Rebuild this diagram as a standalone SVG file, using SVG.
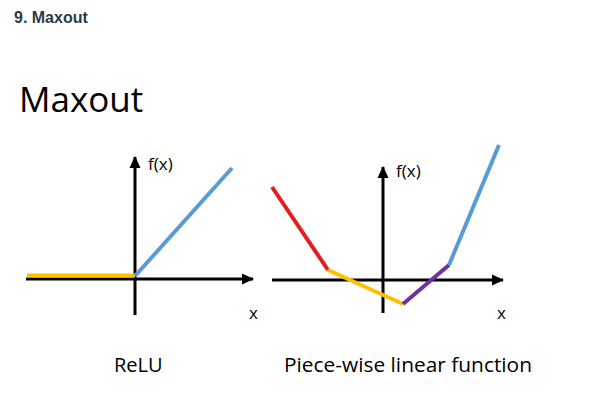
<svg xmlns="http://www.w3.org/2000/svg" width="590" height="418" viewBox="0 0 590 418">
<defs>
<style>
.ax{stroke:#000;stroke-width:3;fill:none}
.seg{stroke-width:4;fill:none;stroke-linecap:butt}
.lbl{font-family:"Open Sans","Liberation Sans",sans-serif;fill:#000}
</style>
<marker id="ah" markerWidth="12" markerHeight="12" refX="11" refY="6" orient="auto" markerUnits="userSpaceOnUse" viewBox="0 0 12 12">
<path d="M0,0.5 L12,6 L0,11.5 z" fill="#000"/>
</marker>
</defs>
<rect width="590" height="418" fill="#fff"/>
<text x="14" y="23" font-family="Liberation Sans,Arial,sans-serif" font-weight="bold" font-size="16" fill="#2d3a45">9. Maxout</text>
<text x="19" y="112" class="lbl" font-size="35">Maxout</text>
<g id="relu">
<line class="ax" x1="26" y1="279" x2="253" y2="279" marker-end="url(#ah)"/>
<line class="ax" x1="135" y1="315" x2="135" y2="157" marker-end="url(#ah)"/>
<line class="seg" stroke="#ffc000" x1="27" y1="275.5" x2="135" y2="275.5"/>
<line class="seg" stroke="#5b9bd5" x1="135" y1="276" x2="232" y2="168"/>
<text x="148" y="170" class="lbl" font-size="17">f(x)</text>
<text x="249" y="319" class="lbl" font-size="17">x</text>
<text x="114" y="372" class="lbl" font-size="20">ReLU</text>
</g>
<g id="piecewise">
<line class="ax" x1="272" y1="280" x2="503" y2="280" marker-end="url(#ah)"/>
<line class="ax" x1="383" y1="313" x2="383" y2="167" marker-end="url(#ah)"/>
<polyline class="seg" stroke="#e41e1e" points="272,187 328,270"/>
<polyline class="seg" stroke="#ffc000" points="328,270 403,304"/>
<polyline class="seg" stroke="#7030a0" points="403,304 449,265"/>
<polyline class="seg" stroke="#5b9bd5" points="449,265 499,145"/>
<text x="396" y="177" class="lbl" font-size="17">f(x)</text>
<text x="497" y="319" class="lbl" font-size="17">x</text>
<text x="284" y="372" class="lbl" font-size="20.5" textLength="248" lengthAdjust="spacingAndGlyphs">Piece-wise linear function</text>
</g>
</svg>
